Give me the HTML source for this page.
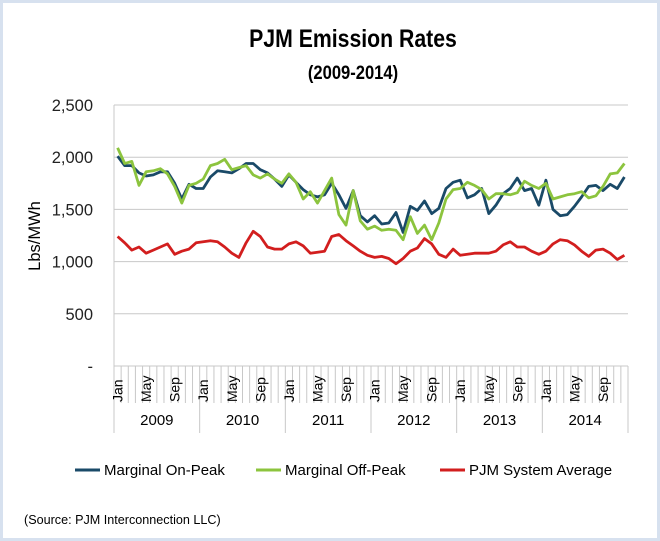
<!DOCTYPE html>
<html><head><meta charset="utf-8"><style>
html,body{margin:0;padding:0;background:#fff;}
#w{position:relative;width:660px;height:541px;overflow:hidden;background:#fff;}
svg{position:absolute;left:0;top:0;}
text{font-family:"Liberation Sans",Arial,sans-serif;}
</style></head><body><div id="w">
<svg id="s" width="660" height="541" viewBox="0 0 660 541" xmlns="http://www.w3.org/2000/svg">
<rect x="1.5" y="1.5" width="657" height="538" fill="#fff" stroke="#d7e1ef" stroke-width="3"/>
<text x="353" y="47" text-anchor="middle" font-size="25" font-weight="bold" transform="translate(353 0) scale(0.85 1) translate(-353 0)">PJM Emission Rates</text>
<text x="353" y="79" text-anchor="middle" font-size="19.5" font-weight="bold" transform="translate(353 0) scale(0.85 1) translate(-353 0)">(2009-2014)</text>
<text x="40" y="236" text-anchor="middle" font-size="16.5" transform="rotate(-90 40 236)">Lbs/MWh</text>
<g id="g"></g>
<g font-size="15">
<line x1="75" y1="470" x2="100" y2="470" stroke="#1a4a68" stroke-width="3"/>
<text x="104" y="475">Marginal On-Peak</text>
<line x1="256" y1="470" x2="281" y2="470" stroke="#8cc43e" stroke-width="3"/>
<text x="285" y="475">Marginal Off-Peak</text>
<line x1="440" y1="470" x2="465" y2="470" stroke="#d21e1e" stroke-width="3"/>
<text x="469" y="475">PJM System Average</text>
</g>
<text x="24" y="524" font-size="12.6">(Source: PJM Interconnection LLC)</text>
</svg></div>
<script>
var g=document.getElementById('g'),h='';
var X0=114,X1=628,dx=(X1-X0)/72;
function Y(v){return 366-v*0.1044;}
[0,500,1000,1500,2000,2500].forEach(function(v,i){
 var y=Y(v);
 if(v>0)h+='<line x1="'+X0+'" y1="'+y+'" x2="'+X1+'" y2="'+y+'" stroke="#c8c8c8" stroke-width="1"/>';
 h+='<text x="93" y="'+(y+6)+'" text-anchor="end" font-size="16.5" fill="#222">'+(v==0?'-':v.toLocaleString('en-US'))+'</text>';
});
h+='<line x1="'+X0+'" y1="105" x2="'+X0+'" y2="433" stroke="#c8c8c8"/>';
h+='<line x1="'+X0+'" y1="366" x2="'+X1+'" y2="366" stroke="#c8c8c8"/>';
for(var i=1;i<=72;i++){var x=X0+i*dx;h+='<line x1="'+x+'" y1="366" x2="'+x+'" y2="'+(i%12==0?433:403)+'" stroke="#c8c8c8"/>';}
var mn=['Jan','May','Sep'];
for(var i=0;i<72;i+=4){var x=X0+(i+0.5)*dx+5;var y=402;h+='<text x="'+x+'" y="'+y+'" font-size="14" text-anchor="start" transform="rotate(-90 '+x+' '+y+')">'+mn[(i%12)/4]+'</text>';}
for(var yr=0;yr<6;yr++){h+='<text x="'+(X0+(yr+0.5)*12*dx)+'" y="425" text-anchor="middle" font-size="15">'+(2009+yr)+'</text>';}
var B=[2010,1920,1920,1850,1820,1830,1860,1860,1750,1600,1740,1700,1700,1810,1870,1860,1850,1890,1940,1940,1880,1850,1790,1720,1830,1760,1690,1640,1620,1640,1750,1640,1510,1680,1440,1380,1440,1360,1370,1470,1280,1530,1490,1580,1460,1510,1700,1760,1780,1610,1640,1700,1460,1540,1650,1700,1800,1680,1700,1540,1780,1500,1440,1450,1530,1620,1720,1730,1680,1740,1700,1810];
var G=[2090,1940,1960,1730,1860,1870,1890,1840,1720,1560,1730,1750,1790,1920,1940,1980,1880,1900,1920,1830,1800,1840,1790,1750,1840,1760,1600,1670,1560,1680,1800,1450,1350,1680,1390,1310,1340,1300,1310,1300,1210,1430,1270,1350,1210,1370,1600,1690,1700,1760,1730,1690,1600,1650,1650,1640,1660,1770,1730,1700,1750,1600,1620,1640,1650,1670,1610,1630,1720,1840,1850,1940];
var R=[1240,1180,1110,1140,1080,1110,1140,1170,1070,1100,1120,1180,1190,1200,1190,1140,1080,1040,1180,1290,1240,1140,1120,1120,1170,1190,1150,1080,1090,1100,1240,1260,1200,1150,1100,1060,1040,1050,1030,980,1030,1100,1130,1220,1170,1070,1040,1120,1060,1070,1080,1080,1080,1100,1160,1190,1140,1140,1100,1070,1100,1170,1210,1200,1160,1100,1050,1110,1120,1080,1020,1060];
function P(d,c){var p=d.map(function(v,i){return (X0+(i+0.5)*dx).toFixed(1)+','+Y(v).toFixed(1);}).join(' ');h+='<polyline points="'+p+'" fill="none" stroke="'+c+'" stroke-width="2.8" stroke-linejoin="round"/>';}
P(R,'#d21e1e');P(B,'#1a4a68');P(G,'#8cc43e');
g.innerHTML=h;
</script>
</body></html>
